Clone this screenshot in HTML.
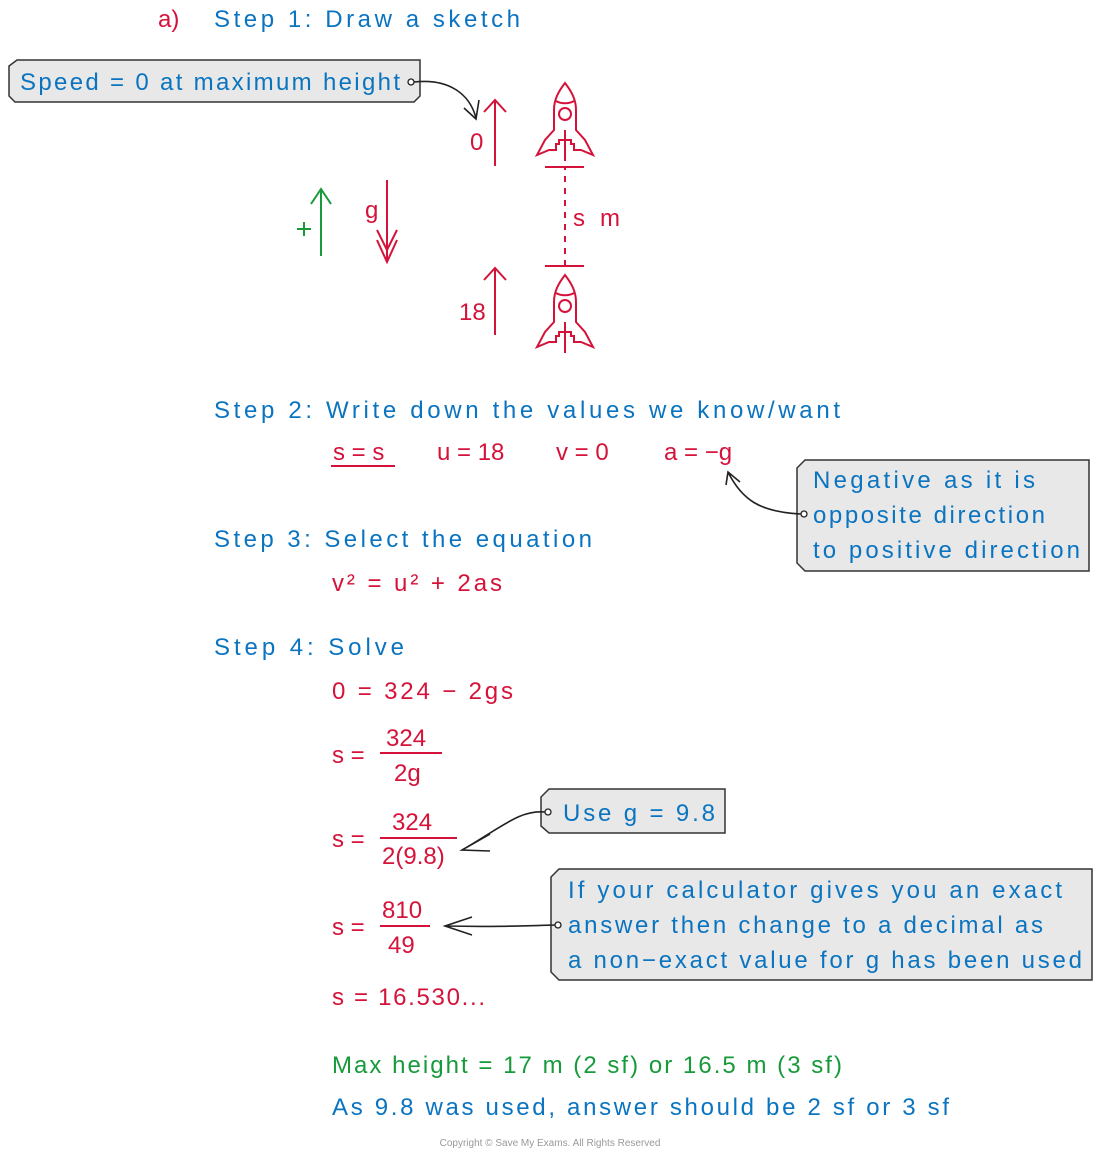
<!DOCTYPE html>
<html><head><meta charset="utf-8"><style>
html,body{margin:0;padding:0;background:#fff;}
svg{display:block;}
text{font-family:"Liberation Sans",sans-serif;font-size:24px;}
.b{fill:#0a74c0}.r{fill:#d5133a}.g{fill:#179a3a}
</style></head><body>
<svg width="1100" height="1154" viewBox="0 0 1100 1154" xmlns="http://www.w3.org/2000/svg">
<text x="158" y="27" class="r">a)</text>
<text x="214" y="27" class="b" textLength="306" lengthAdjust="spacing">Step 1:  Draw a sketch</text>

<path d="M17,60 H420 V96 L414,102 H15 L9,96 V66 Z" fill="#e8e8e8" stroke="#333" stroke-width="1.5"/>
<text x="20" y="90" class="b" textLength="380" lengthAdjust="spacing">Speed = 0  at  maximum  height</text>
<circle cx="411" cy="82" r="3" fill="#fff" stroke="#222" stroke-width="1.3"/>
<path d="M414,82 C450,78 470,95 476,118 M464,108 L476,119 L479,100" fill="none" stroke="#222" stroke-width="1.6"/>

<g stroke="#d5133a" stroke-width="2" fill="none">
<path d="M495,166 V100 M484,112 L495,100 L506,112"/>
<path d="M495,335 V268 M484,280 L495,268 L506,280"/>
<path d="M387,180 V262 M377,240 L387,262 L397,240 M377,230 L387,250 L397,230"/>
<path d="M545,167 H584 M565,167 V265 M545,266 H584" />
</g>
<path d="M565,170 V265" stroke="#fff" stroke-width="3" stroke-dasharray="6,6"/>
<g stroke="#d5133a" stroke-width="2" fill="none" id="rk">
<path d="M565,83 C558,92 554,100 554,110 V130 L545,140 L537,155 L549,150 L556,150 V144 L559,144 V140 H571 V144 L574,144 V150 L581,150 L593,155 L585,140 L576,130 V110 C576,100 572,92 565,83 Z"/>
<path d="M556,101 C561,104 569,104 574,101"/>
<circle cx="565" cy="114" r="6"/>
<path d="M565,130 V161"/>
</g>
<use href="#rk" transform="translate(0,192)"/>
<text x="470" y="150" class="r">0</text>
<text x="459" y="320" class="r">18</text>
<text x="573" y="226" class="r">s</text>
<text x="600" y="226" class="r">m</text>
<text x="365" y="218" class="r">g</text>
<g stroke="#179a3a" stroke-width="2" fill="none">
<path d="M321,256 V189 M311,204 L321,189 L331,204 M297,229 H311 M304,222 V236"/>
</g>

<text x="214" y="418" class="b" textLength="626" lengthAdjust="spacing">Step 2:  Write down the values we know/want</text>
<text x="333" y="460" class="r">s = s</text>
<path d="M331,466 H395" stroke="#d5133a" stroke-width="2"/>
<text x="437" y="460" class="r">u = 18</text>
<text x="556" y="460" class="r">v = 0</text>
<text x="664" y="460" class="r">a = −g</text>

<path d="M805,460 H1089 V571 H805 L797,563 V468 Z" fill="#e8e8e8" stroke="#333" stroke-width="1.5"/>
<text x="813" y="488" class="b" textLength="222" lengthAdjust="spacing">Negative as it is</text>
<text x="813" y="523" class="b" textLength="232" lengthAdjust="spacing">opposite direction</text>
<text x="813" y="558" class="b" textLength="267" lengthAdjust="spacing">to positive direction</text>
<circle cx="804" cy="514" r="3" fill="#fff" stroke="#222" stroke-width="1.3"/>
<path d="M801,514 C760,512 742,500 728,472 M726,485 L728,472 L740,482" fill="none" stroke="#222" stroke-width="1.6"/>

<text x="214" y="547" class="b" textLength="378" lengthAdjust="spacing">Step 3:  Select the equation</text>
<text x="332" y="591" class="r" textLength="170" lengthAdjust="spacing">v² = u² + 2as</text>

<text x="214" y="655" class="b" textLength="190" lengthAdjust="spacing">Step 4:  Solve</text>
<text x="332" y="699" class="r" textLength="181" lengthAdjust="spacing">0 = 324 − 2gs</text>

<text x="332" y="763" class="r">s =</text>
<text x="386" y="746" class="r">324</text>
<path d="M380,753 H442" stroke="#d5133a" stroke-width="2"/>
<text x="394" y="781" class="r">2g</text>

<text x="332" y="847" class="r">s =</text>
<text x="392" y="830" class="r">324</text>
<path d="M380,838 H457" stroke="#d5133a" stroke-width="2"/>
<text x="382" y="864" class="r">2(9.8)</text>

<path d="M549,789 H725 V833 H549 L541,826 V797 Z" fill="#e8e8e8" stroke="#333" stroke-width="1.5"/>
<text x="563" y="821" class="b" textLength="152" lengthAdjust="spacing">Use  g = 9.8</text>
<circle cx="548" cy="812" r="3" fill="#fff" stroke="#222" stroke-width="1.3"/>
<path d="M545,812 C520,810 505,825 462,850 M490,834 L462,850 L490,851" fill="none" stroke="#222" stroke-width="1.6"/>

<text x="332" y="935" class="r">s =</text>
<text x="382" y="918" class="r">810</text>
<path d="M380,926 H430" stroke="#d5133a" stroke-width="2"/>
<text x="388" y="953" class="r">49</text>

<path d="M559,869 H1092 V980 H559 L551,972 V877 Z" fill="#e8e8e8" stroke="#333" stroke-width="1.5"/>
<text x="568" y="898" class="b" textLength="494" lengthAdjust="spacing">If your calculator gives you an exact</text>
<text x="568" y="933" class="b" textLength="475" lengthAdjust="spacing">answer then change to a decimal as</text>
<text x="568" y="968" class="b" textLength="514" lengthAdjust="spacing">a non−exact value for g has been used</text>
<circle cx="558" cy="925" r="3" fill="#fff" stroke="#222" stroke-width="1.3"/>
<path d="M555,925 C520,926 490,927 445,926 M472,917 L445,926 L472,935" fill="none" stroke="#222" stroke-width="1.6"/>

<text x="332" y="1005" class="r" textLength="153" lengthAdjust="spacing">s = 16.530...</text>
<text x="332" y="1073" class="g" textLength="510" lengthAdjust="spacing">Max height = 17 m (2 sf) or 16.5 m (3 sf)</text>
<text x="332" y="1115" class="b" textLength="617" lengthAdjust="spacing">As 9.8 was used, answer should be 2 sf or 3 sf</text>
<text x="550" y="1146" text-anchor="middle" style="font-size:10px" fill="#999">Copyright © Save My Exams. All Rights Reserved</text>
</svg>
</body></html>
